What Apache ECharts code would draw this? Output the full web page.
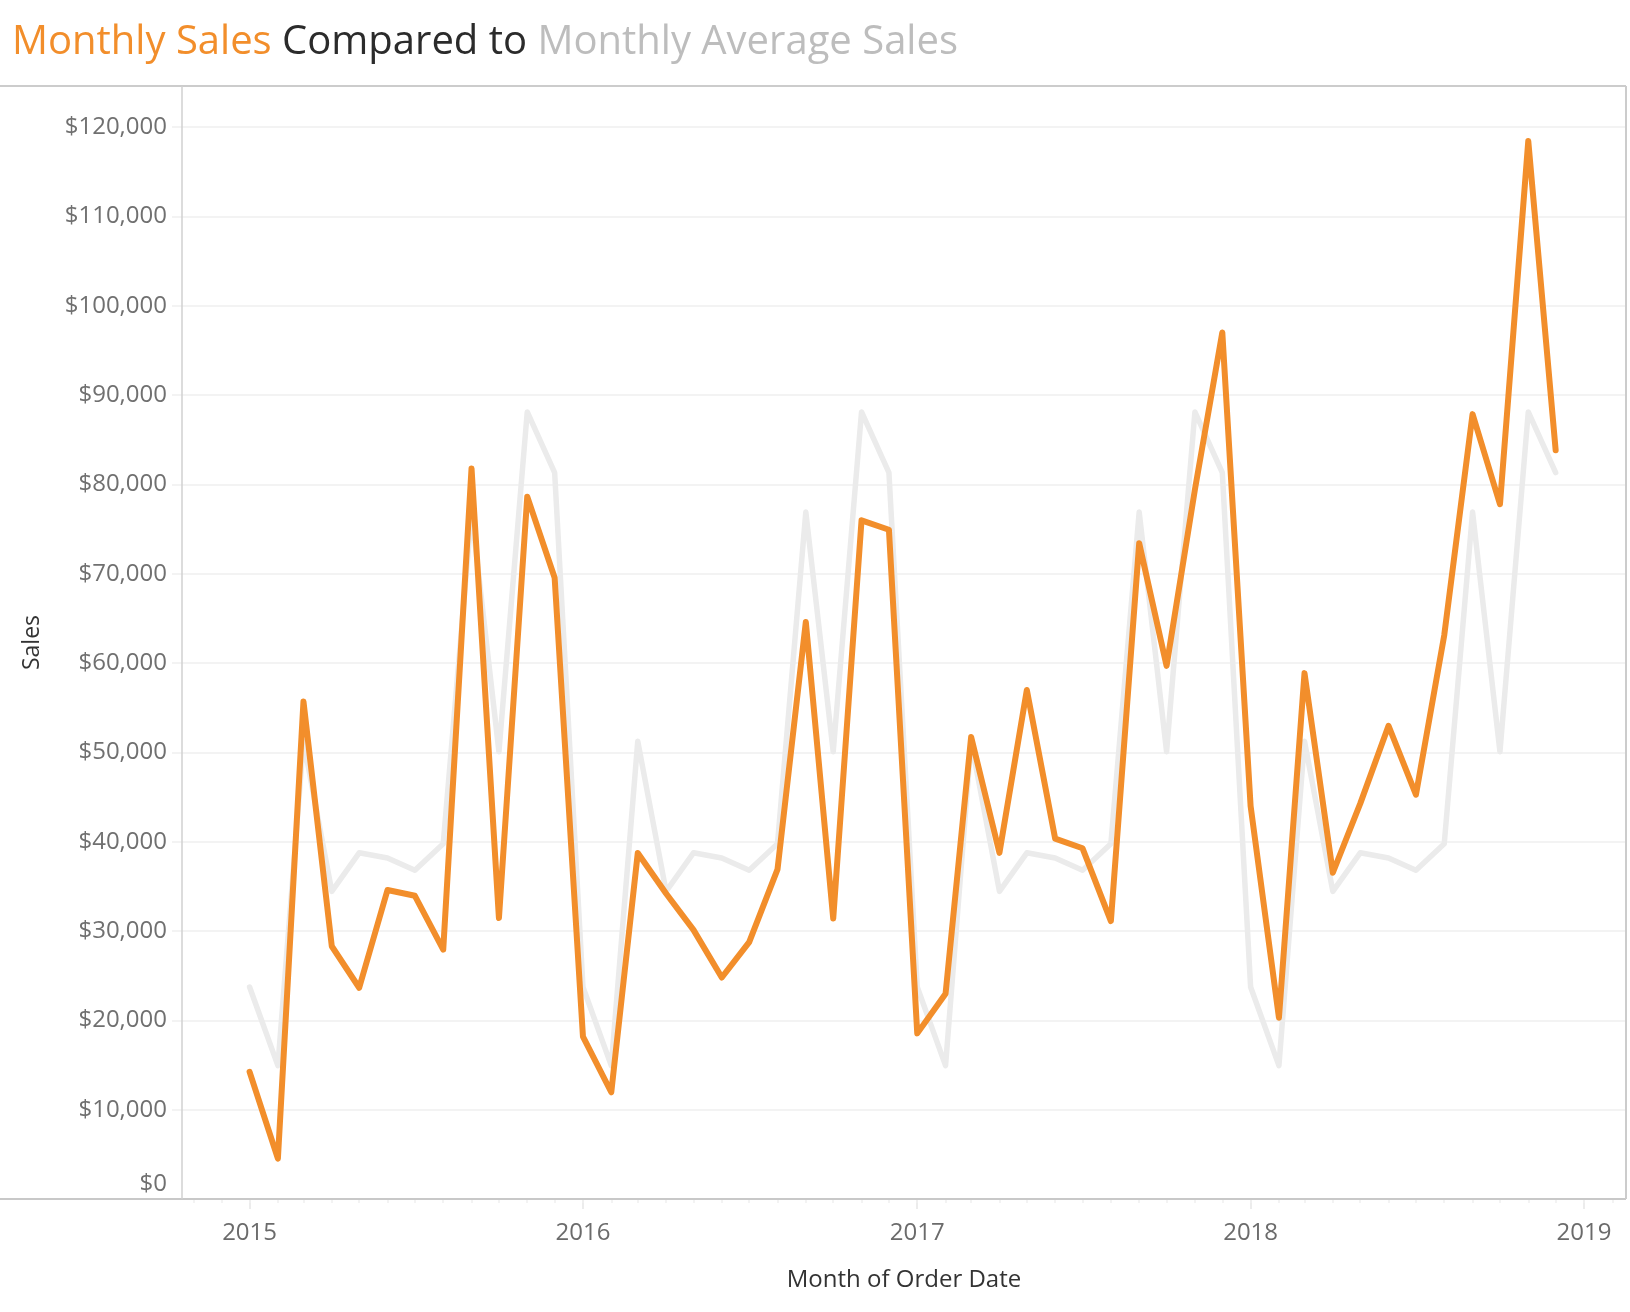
<!DOCTYPE html>
<html>
<head>
<meta charset="utf-8">
<script src="https://cdn.jsdelivr.net/npm/echarts@6/dist/echarts.min.js"></script>
<style>
html,body{margin:0;padding:0;background:#fff;}
#chart{width:1630px;height:1312px;}
</style>
</head>
<body>
<div id="chart"></div>
<script>
// ---- Data ----
const months = [
  '2015-01','2015-02','2015-03','2015-04','2015-05','2015-06','2015-07','2015-08','2015-09','2015-10','2015-11','2015-12',
  '2016-01','2016-02','2016-03','2016-04','2016-05','2016-06','2016-07','2016-08','2016-09','2016-10','2016-11','2016-12',
  '2017-01','2017-02','2017-03','2017-04','2017-05','2017-06','2017-07','2017-08','2017-09','2017-10','2017-11','2017-12',
  '2018-01','2018-02','2018-03','2018-04','2018-05','2018-06','2018-07','2018-08','2018-09','2018-10','2018-11','2018-12'
];
const monthlySales = [
  14237, 4520, 55691, 28295, 23648, 34595, 33946, 27909, 81777, 31453, 78629, 69546,
  18174, 11951, 38726, 34195, 30132, 24797, 28765, 36898, 64596, 31405, 75973, 74920,
  18542, 22979, 51716, 38750, 56988, 40345, 39262, 31115, 73410, 59688, 79412, 96999,
  43971, 20301, 58872, 36522, 44261, 52982, 45264, 63121, 87867, 77777, 118448, 83829
];
const monthlyAverageSales = [
  23731, 14938, 51251, 34441, 38757, 38180, 36809, 39761, 76913, 50081, 88116, 81324,
  23731, 14938, 51251, 34441, 38757, 38180, 36809, 39761, 76913, 50081, 88116, 81324,
  23731, 14938, 51251, 34441, 38757, 38180, 36809, 39761, 76913, 50081, 88116, 81324,
  23731, 14938, 51251, 34441, 38757, 38180, 36809, 39761, 76913, 50081, 88116, 81324
];
const yearTicks = ['2015-01-01','2016-01-01','2017-01-01','2018-01-01','2019-01-01'];
const yTicks = [0,10000,20000,30000,40000,50000,60000,70000,80000,90000,100000,110000,120000];
const xMin = '2014-10-19';
const xMax = '2019-02-16';
const yMax = 124600;

// ---- Helpers ----
const ts = s => echarts.time.parse(s).getTime();
const monthTicks = [];
for (let y = 2014; y <= 2019; y++) {
  for (let m = 0; m < 12; m++) {
    const t = new Date(y, m, 1).getTime();
    if (t >= ts(xMin) && t <= ts(xMax)) monthTicks.push(t);
  }
}
const FONT = '"Open Sans", "Noto Sans", sans-serif';
const ORANGE = '#F28E2B';

const chart = echarts.init(document.getElementById('chart'), null, {renderer: 'canvas'});
const option = {
  backgroundColor: '#ffffff',
  animation: false,
  title: {
    left: 7,
    top: 18,
    text: '{a|Monthly Sales} {b|Compared to} {c|Monthly Average Sales}',
    textStyle: {
      fontFamily: FONT,
      fontSize: 40,
      fontWeight: 'normal',
      rich: {
        a: {color: ORANGE, fontSize: 40, fontFamily: FONT, fontWeight: 'normal'},
        b: {color: '#2b2b2b', fontSize: 40, fontFamily: FONT, fontWeight: 'normal'},
        c: {color: '#bdbdbd', fontSize: 40, fontFamily: FONT, fontWeight: 'normal'}
      }
    }
  },
  grid: {left: 182, right: 4, top: 86, bottom: 113, containLabel: false},
  xAxis: [
    {
      type: 'value',
      min: ts(xMin),
      max: ts(xMax),
      name: 'Month of Order Date',
      nameLocation: 'middle',
      nameGap: 69,
      nameTextStyle: {fontFamily: FONT, fontSize: 24, color: '#333333'},
      axisLine: {show: false},
      axisTick: {show: true, length: 10, lineStyle: {color: '#e6e6e6', width: 1.5},
        customValues: yearTicks.map(ts)},
      axisLabel: {
        customValues: yearTicks.map(ts),
        formatter: v => String(new Date(v).getFullYear()),
        fontFamily: FONT, fontSize: 24, color: '#6b6b6b', margin: 22,
        showMinLabel: true, showMaxLabel: true, hideOverlap: false
      },
      splitLine: {show: false}
    },
    {
      type: 'value',
      min: ts(xMin),
      max: ts(xMax),
      position: 'bottom',
      axisLine: {show: false},
      axisTick: {show: true, length: 4, lineStyle: {color: '#f0f0f0', width: 1.5},
        customValues: monthTicks},
      axisLabel: {show: false},
      splitLine: {show: false}
    }
  ],
  yAxis: {
    type: 'value',
    min: 0,
    max: yMax,
    name: 'Sales',
    nameLocation: 'middle',
    nameGap: 138,
    nameRotate: 90,
    nameTextStyle: {fontFamily: FONT, fontSize: 23, color: '#333333'},
    axisLine: {show: false},
    axisTick: {show: true, length: 10, lineStyle: {color: '#efefef', width: 1.5},
      customValues: yTicks},
    axisLabel: {
      customValues: yTicks,
      fontFamily: FONT, fontSize: 24, color: '#707070', margin: 15,
      formatter: v => v === 0 ? '{z|$0}' : '$' + v.toLocaleString('en-US'),
      rich: {z: {fontFamily: FONT, fontSize: 24, color: '#707070', padding: [0, 0, 30, 0]}}
    },
    splitLine: {show: true, lineStyle: {color: '#efefef', width: 1.5}},
    interval: 10000
  },
  series: [
    {
      name: 'Monthly Average Sales',
      type: 'line',
      xAxisIndex: 0,
      data: months.map((m, i) => [ts(m + '-01'), monthlyAverageSales[i]]),
      showSymbol: false,
      symbol: 'none',
      lineStyle: {color: '#ebebeb', width: 5.5, join: 'round', cap: 'round'},
      z: 2
    },
    {
      name: 'Monthly Sales',
      type: 'line',
      xAxisIndex: 0,
      data: months.map((m, i) => [ts(m + '-01'), monthlySales[i]]),
      showSymbol: false,
      symbol: 'none',
      lineStyle: {color: ORANGE, width: 6, join: 'round', cap: 'round'},
      z: 3
    }
  ],
  graphic: [
    {type: 'line', shape: {x1: 0, y1: 86, x2: 1626, y2: 86}, style: {stroke: '#cccccc', lineWidth: 2}, z: 10},
    {type: 'line', shape: {x1: 0, y1: 1199, x2: 1626, y2: 1199}, style: {stroke: '#c8c8c8', lineWidth: 2}, z: 10},
    {type: 'line', shape: {x1: 182, y1: 86, x2: 182, y2: 1199}, style: {stroke: '#d0d0d0', lineWidth: 1.5}, z: 10},
    {type: 'line', shape: {x1: 1626, y1: 86, x2: 1626, y2: 1199}, style: {stroke: '#cccccc', lineWidth: 2}, z: 10}
  ]
};
chart.setOption(option);
</script>
</body>
</html>
